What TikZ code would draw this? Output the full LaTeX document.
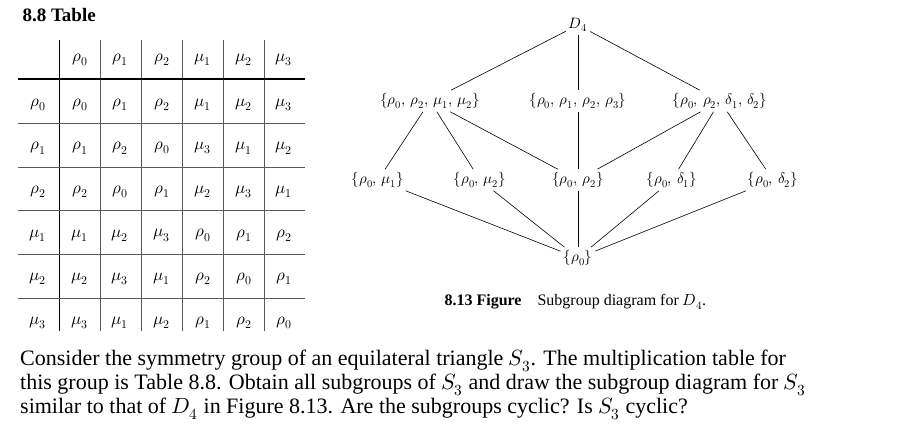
\documentclass[tikz,border=0pt]{standalone}
\usepackage{fontspec}
\setmainfont{Liberation Serif}
\usepackage{unicode-math}
\setmathfont{Latin Modern Math}
\begin{document}
\begin{tikzpicture}[x=1pt,y=-1pt,
  cell/.style={font=\fontsize{17}{19}\selectfont},
  grp/.style={font=\fontsize{15}{17}\selectfont, inner sep=3pt},
  edge/.style={line width=0.6pt},
  tl/.style={line width=0.5pt, draw=gray!70!black}]
\useasboundingbox (0,0) rectangle (897,443);
\node[anchor=west,font=\bfseries\fontsize{19}{21}\selectfont] (title) at (19,15) {8.8 Table};
% table grid
\foreach \x in {100,141,182,223,264} \draw[tl] (\x,40) -- (\x,331);
\draw[line width=1pt] (59,40) -- (59,331);
\draw[line width=1.5pt] (18,79) -- (305,79);
\foreach \y in {123,167,210,254,298} \draw[tl] (18,\y) -- (305,\y);
\def\cols{{38,80,120,162,203,244,284}}
\foreach \r [count=\i from 0] in {
 {{},\rho_0,\rho_1,\rho_2,\mu_1,\mu_2,\mu_3},
 {\rho_0,\rho_0,\rho_1,\rho_2,\mu_1,\mu_2,\mu_3},
 {\rho_1,\rho_1,\rho_2,\rho_0,\mu_3,\mu_1,\mu_2},
 {\rho_2,\rho_2,\rho_0,\rho_1,\mu_2,\mu_3,\mu_1},
 {\mu_1,\mu_1,\mu_2,\mu_3,\rho_0,\rho_1,\rho_2},
 {\mu_2,\mu_2,\mu_3,\mu_1,\rho_2,\rho_0,\rho_1},
 {\mu_3,\mu_3,\mu_1,\mu_2,\rho_1,\rho_2,\rho_0}}{
  \pgfmathsetmacro\yy{\i==0 ? 60 : 61+43.6*\i}
  \foreach \e [count=\j from 0] in \r {
    \pgfmathsetmacro\xx{\cols[\j]}
    \node[cell] (c\i\j) at (\xx,\yy) {$\e$};
  }
}
% subgroup diagram
\node[grp] (D) at (578,25) {$D_4$};
\node[grp] (A) at (430,101) {$\{\rho_0,\,\rho_2,\,\mu_1,\,\mu_2\}$};
\node[grp] (B) at (578,101) {$\{\rho_0,\,\rho_1,\,\rho_2,\,\rho_3\}$};
\node[grp] (C) at (720,101) {$\{\rho_0,\,\rho_2,\,\delta_1,\,\delta_2\}$};
\node[grp] (E1) at (378,180) {$\{\rho_0,\,\mu_1\}$};
\node[grp] (E2) at (480,180) {$\{\rho_0,\,\mu_2\}$};
\node[grp] (E3) at (578,180) {$\{\rho_0,\,\rho_2\}$};
\node[grp] (E4) at (672,180) {$\{\rho_0,\,\delta_1\}$};
\node[grp] (E5) at (773,180) {$\{\rho_0,\,\delta_2\}$};
\node[grp] (O) at (578,258) {$\{\rho_0\}$};
\foreach \a/\b in {D/A,D/B,D/C,A/E1,A/E2,A/E3,B/E3,C/E3,C/E4,C/E5,E1/O,E2/O,E3/O,E4/O,E5/O}
  \draw[edge] (\a) -- (\b);
\node[anchor=west,font=\fontsize{16}{18}\selectfont] (cap) at (441,302) {\textbf{8.13 Figure}\hspace{1em}Subgroup diagram for $D_4$.};
\node[anchor=north west,align=left,inner sep=0pt,font=\fontsize{22}{24}\selectfont] (txt) at (20,350)
 {Consider the symmetry group of an equilateral triangle $S_3$. The multiplication table for\\ this group is Table 8.8. Obtain all subgroups of $S_3$ and draw the subgroup diagram for $S_3$\\ similar to that of $D_4$ in Figure 8.13. Are the subgroups cyclic? Is $S_3$ cyclic?};
\end{tikzpicture}
\end{document}
